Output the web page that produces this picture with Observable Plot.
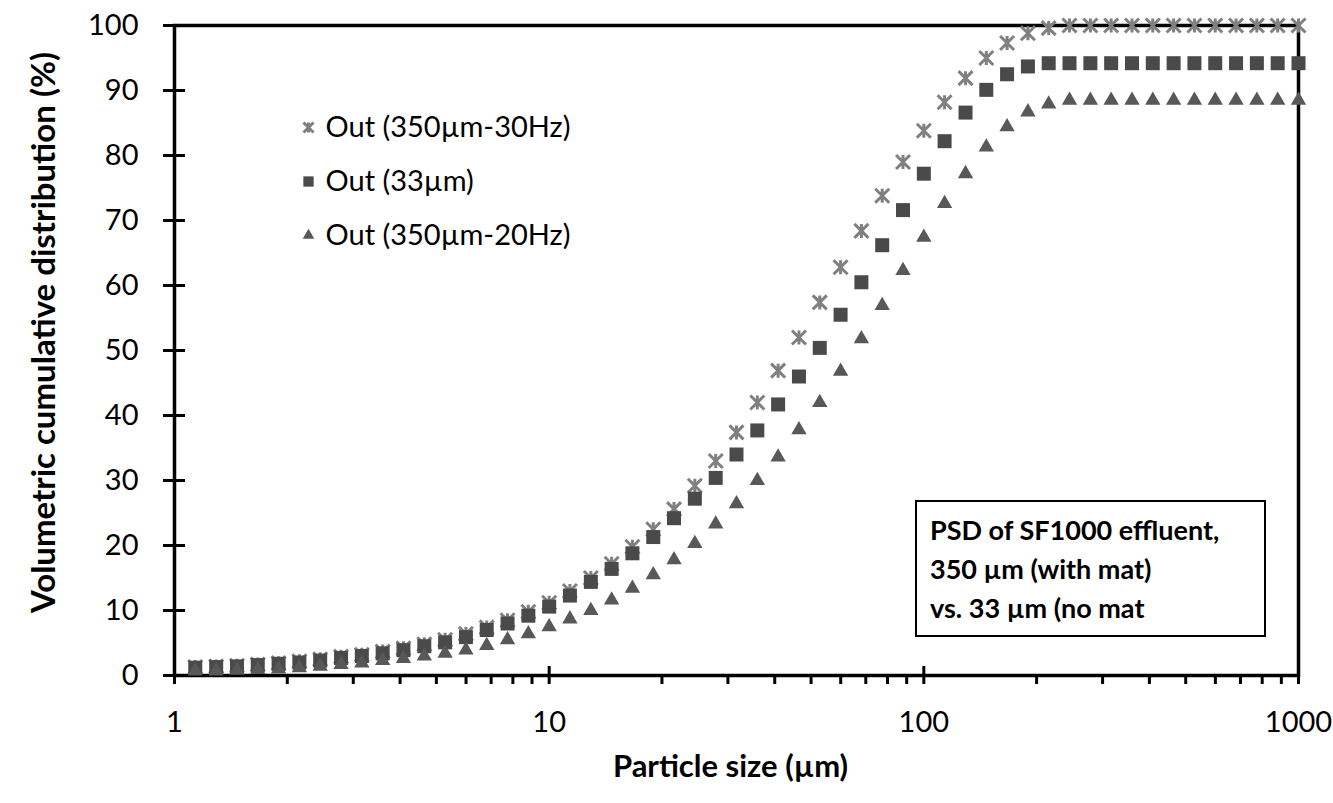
<!DOCTYPE html>
<html>
<head>
<meta charset="utf-8">
<script src="https://cdn.jsdelivr.net/npm/d3@7"></script>
<script src="https://cdn.jsdelivr.net/npm/@observablehq/plot@0.6"></script>
<style>
  html, body { margin: 0; padding: 0; background: #fff; }
  #wrap { position: relative; width: 1333px; height: 803px; overflow: hidden; font-family: Lato, sans-serif; }
  #note {
    position: absolute; left: 915px; top: 500px; width: 351px; height: 137px;
    box-sizing: border-box; border: 2px solid #000; background: #fff;
    font: bold 27px Lato, sans-serif; line-height: 39px; color: #000;
    padding: 8px 0 0 13px; white-space: nowrap;
  }
</style>
</head>
<body>
<div id="wrap"></div>
<script>
// ---- data ----
const sizes = [1.136,1.292,1.468,1.668,1.896,2.154,2.448,2.783,3.162,3.594,4.084,4.642,5.275,5.995,6.813,7.743,8.799,10,
  11.36,12.92,14.68,16.68,18.96,21.54,24.48,27.83,31.62,35.94,40.84,46.42,52.75,59.95,68.13,77.43,87.99,100,
  113.6,129.2,146.8,166.8,189.6,215.4,244.8,278.3,316.2,359.4,408.4,464.2,527.5,599.5,681.3,774.3,879.9,1000];

const out350_30Hz = [1.3,1.4,1.5,1.7,1.9,2.2,2.5,2.9,3.2,3.7,4.2,4.8,5.5,6.4,7.4,8.5,9.8,11.2,
  13.0,15.0,17.2,19.8,22.5,25.6,29.2,33.0,37.4,42.0,46.9,52.0,57.4,62.8,68.4,73.8,79.0,83.8,
  88.2,91.9,95.0,97.3,98.8,99.6,100,100,100,100,100,100,100,100,100,100,100,100];

const out33 = [1.2,1.3,1.4,1.6,1.8,2.0,2.3,2.7,3.0,3.4,3.9,4.5,5.1,5.9,7.0,8.0,9.2,10.6,
  12.3,14.4,16.4,18.8,21.3,24.2,27.2,30.4,34.0,37.7,41.7,46.0,50.4,55.5,60.5,66.2,71.6,77.2,
  82.2,86.6,90.1,92.5,93.7,94.2,94.2,94.2,94.2,94.2,94.2,94.2,94.2,94.2,94.2,94.2,94.2,94.2];

const out350_20Hz = [0.7,0.7,0.8,0.9,1.0,1.2,1.4,1.7,1.9,2.3,2.6,3.0,3.4,3.9,4.6,5.5,6.4,7.5,
  8.7,10.0,11.6,13.4,15.5,17.8,20.3,23.3,26.4,30.0,33.6,37.8,42.0,46.8,51.8,56.9,62.3,67.4,
  72.6,77.2,81.3,84.4,86.7,87.9,88.5,88.5,88.5,88.5,88.5,88.5,88.5,88.5,88.5,88.5,88.5,88.5];

const seriesNames = ["Out (350µm-30Hz)", "Out (33µm)", "Out (350µm-20Hz)"];
const xMajorTicks = [1, 10, 100, 1000];
const xMinorTicks = [2,3,4,5,6,7,8,9,20,30,40,50,60,70,80,90,200,300,400,500,600,700,800,900];
const yTicks = [0,10,20,30,40,50,60,70,80,90,100];
const xTitle = "Particle size (µm)";
const yTitle = "Volumetric cumulative distribution (%)";
const noteLines = ["PSD of SF1000 effluent,", "350 µm (with mat)", "vs. 33 µm (no mat"];

// ---- layout ----
const W = 1333, H = 803;
const mL = 174, mR = 35, mT = 25, mB = 128;
const plotW = W - mL - mR, plotH = H - mT - mB;

// Excel-like star marker: X plus a vertical bar
const star = {
  draw(ctx, size) {
    const r = Math.sqrt(size / Math.PI);
    ctx.moveTo(-r, -r); ctx.lineTo(r, r);
    ctx.moveTo(-r, r); ctx.lineTo(r, -r);
    ctx.moveTo(0, -r); ctx.lineTo(0, r);
  }
};

const rows = (vals) => sizes.map((x, i) => ({x, y: vals[i]}));

const styles = [
  {symbol: star, fill: "none", stroke: "#808080", strokeWidth: 3, r: 7, lr: 5},
  {symbol: "square", fill: "#4a4a4a", stroke: "none", r: 7.9, lr: 5.8},
  {symbol: "triangle", fill: "#585858", stroke: "none", r: 5.7, lr: 4.3}
];
const seriesVals = [out350_30Hz, out33, out350_20Hz];

const legendMarks = seriesNames.flatMap((name, i) => {
  const s = styles[i];
  return [
    Plot.dot([name], {frameAnchor: "top-left", dx: 134, dy: 102 + i * 54,
      symbol: s.symbol, fill: s.fill, stroke: s.stroke, strokeWidth: s.strokeWidth || 1, r: s.lr}),
    Plot.text([name], {frameAnchor: "top-left", dx: 151, dy: 102 + i * 54, text: d => d,
      textAnchor: "start", lineAnchor: "middle", fontSize: 29, fill: "#000"})
  ];
});

const chart = Plot.plot({
  width: W, height: H,
  marginLeft: mL, marginRight: mR, marginTop: mT, marginBottom: mB,
  style: {fontFamily: "Lato, sans-serif", background: "#fff", color: "#000", overflow: "visible"},
  x: {type: "log", domain: [1, 1000], axis: null},
  y: {domain: [0, 100], axis: null},
  marks: [
    Plot.frame({stroke: "#000", strokeWidth: 3.5}),
    Plot.ruleX(xMinorTicks, {x: d => d, insetTop: plotH, insetBottom: -9, stroke: "#000", strokeWidth: 3}),
    Plot.ruleX(xMajorTicks, {x: d => d, insetTop: plotH - 9, insetBottom: -9, stroke: "#000", strokeWidth: 3}),
    Plot.ruleY(yTicks, {y: d => d, insetLeft: -11, insetRight: plotW - 11, stroke: "#000", strokeWidth: 3}),
    Plot.text(xMajorTicks, {x: d => d, frameAnchor: "bottom", dy: 47, text: d => String(d),
      fontSize: 29, lineAnchor: "middle", textAnchor: "middle", fill: "#000"}),
    Plot.text(yTicks, {y: d => d, frameAnchor: "left", dx: -36, text: d => String(d),
      fontSize: 29, lineAnchor: "middle", textAnchor: "end", fill: "#000"}),
    Plot.text([xTitle], {frameAnchor: "bottom", dy: 92, dx: -6, text: d => d, fontSize: 31, fontWeight: "bold", lineAnchor: "middle", textAnchor: "middle"}),
    Plot.text([yTitle], {frameAnchor: "left", dx: -130, dy: -18, rotate: -90, text: d => d, fontSize: 33, fontWeight: "bold", lineAnchor: "middle", textAnchor: "middle"}),
    ...seriesVals.map((vals, i) => {
      const s = styles[i];
      return Plot.dot(rows(vals), {x: "x", y: "y", symbol: s.symbol, fill: s.fill, stroke: s.stroke,
        strokeWidth: s.strokeWidth || 1, r: s.r});
    }),
    ...legendMarks
  ]
});

const wrap = document.getElementById("wrap");
wrap.appendChild(chart);
const note = document.createElement("div");
note.id = "note";
note.innerHTML = noteLines.map(t => `<div>${t}</div>`).join("");
wrap.appendChild(note);
</script>
</body>
</html>
